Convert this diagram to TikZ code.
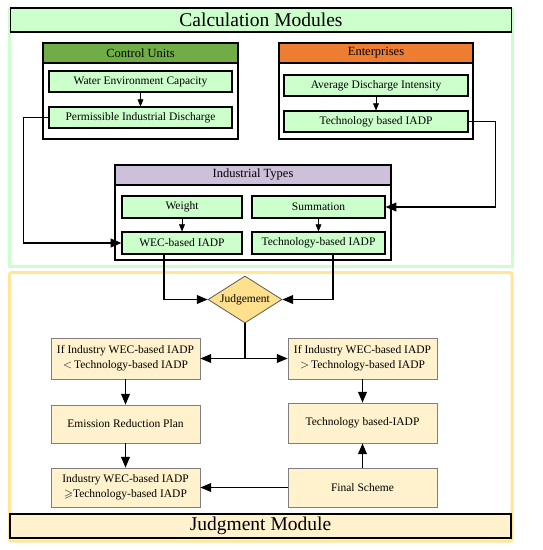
\documentclass[tikz,border=0pt]{standalone}
\usepackage{amssymb,amsmath}
\usepackage{fontspec}
\setmainfont{Liberation Serif}
\usetikzlibrary{arrows}
\usetikzlibrary{shapes.geometric}
\definecolor{calcgreen}{HTML}{CCFFCC}
\definecolor{unitgreen}{HTML}{70AD47}
\definecolor{entorange}{HTML}{ED7D31}
\definecolor{typepurple}{HTML}{CCC0DA}
\definecolor{judgeyellow}{HTML}{FFF2CC}
\definecolor{judgeframe}{HTML}{FFE699}
\definecolor{diamondgold}{HTML}{FFE08C}
\definecolor{boxgray}{HTML}{7F7F7F}

\begin{document}
\begin{tikzpicture}[line join=miter,>=triangle 45,x=1pt,y=-1pt,
    font=\fontsize{11.5}{15}\selectfont,
    titlebar/.style={draw=black,line width=1.6pt,minimum width=501pt,minimum height=24pt,inner sep=0pt,font=\fontsize{19.5}{22}\selectfont},
    groupbox/.style={draw=black,line width=1.6pt,inner sep=0pt},
    headbar/.style={draw=black,line width=1.6pt,minimum height=20pt,inner sep=0pt,font=\fontsize{12.5}{14}\selectfont},
    calcbox/.style={draw=black,fill=calcgreen,line width=1.2pt,inner sep=0pt},
    judgebox/.style={draw=boxgray,fill=judgeyellow,line width=0.8pt,minimum width=149pt,inner sep=0pt,align=center},
    flow/.style={->,line width=1.5pt},
    innerflow/.style={->,line width=0.6pt}]
        \useasboundingbox (0,0) rectangle (542,550);
        \draw[color=calcgreen,line width=3pt] (9.5,9.5) rectangle (512,266.5);
        \draw[color=judgeframe,line width=3pt,rounded corners=2pt] (9.5,272.5) rectangle (512,541);
        \node[titlebar,fill=calcgreen] (calctitle) at (261,20) {Calculation Modules};
        \node[titlebar,fill=judgeyellow] (judgetitle) at (260.5,526) {Judgment Module};
        % control units
        \node[groupbox,minimum width=195pt,minimum height=96pt] (units) at (140.5,91) {};
        \node[headbar,fill=unitgreen,minimum width=195pt] (unitshead) at (140.5,53) {Control Units};
        \node[calcbox,minimum width=183pt,minimum height=21pt] (wac) at (140.5,81.5) {Water Environment Capacity};
        \node[calcbox,minimum width=183pt,minimum height=21pt] (pid) at (140.5,117.5) {Permissible Industrial Discharge};
        % enterprises
        \node[groupbox,minimum width=194pt,minimum height=96pt] (ent) at (376,91) {};
        \node[headbar,fill=entorange,minimum width=194pt] (enthead) at (376,53) {Enterprises};
        \node[calcbox,minimum width=184pt,minimum height=21pt] (adi) at (376,85.5) {Average Discharge Intensity};
        \node[calcbox,minimum width=184pt,minimum height=21pt] (tbi) at (376,121.5) {Technology based IADP};
        % industrial types
        \node[groupbox,minimum width=276pt,minimum height=95pt] (types) at (253,212.5) {};
        \node[headbar,fill=typepurple,minimum width=276pt] (typeshead) at (253,175) {Industrial Types};
        \node[calcbox,minimum width=120pt,minimum height=22pt] (wgt) at (182,207) {Weight};
        \node[calcbox,minimum width=133pt,minimum height=22pt] (sum) at (318.5,207) {Summation};
        \node[calcbox,minimum width=120pt,minimum height=22pt] (wec) at (182,243) {WEC-based IADP};
        \node[calcbox,minimum width=133pt,minimum height=22pt] (tec) at (318.5,243) {Technology-based IADP};
        \draw[innerflow] (wac) -- (pid);
        \draw[innerflow] (adi) -- (tbi);
        \draw[innerflow] (wgt) -- (wec);
        \draw[innerflow] (sum) -- (tec);
        \draw[flow] (pid.west) -- ++(-25,0) |- (wec.west);
        \draw[flow] (tbi.east) -- ++(27,0) |- (sum.east);
        % judgment
        \node[diamond,aspect=1.6,draw=boxgray!70!black,fill=diamondgold,line width=0.8pt,minimum width=74pt,minimum height=47pt,inner sep=0pt] (judge) at (245,299.5) {Judgement};
        \node[judgebox,minimum height=41pt] (ifl) at (125.5,358.5) {If Industry WEC-based IADP\\$<$\,Technology-based IADP};
        \node[judgebox,minimum height=41pt] (ifr) at (362.5,358.5) {If Industry WEC-based IADP\\$>$\,Technology-based IADP};
        \node[judgebox,minimum height=38pt] (erp) at (125.5,424) {Emission Reduction Plan};
        \node[judgebox,minimum height=40pt] (tbd) at (362.5,423) {Technology based-IADP};
        \node[judgebox,minimum height=39pt] (ind) at (125.5,487.5) {Industry WEC-based IADP\\$\geqslant$Technology-based IADP};
        \node[judgebox,minimum height=39pt] (fin) at (362.5,487.5) {Final Scheme};
        \draw[flow] ([xshift=-18pt]wec.south) |- (judge.west);
        \draw[flow] ([xshift=14.5pt]tec.south) |- (judge.east);
        \coordinate (split) at (judge.south |- ifl.east);
        \draw[line width=1.5pt] (judge.south) -- (split);
        \draw[flow] (split) -- (ifl.east);
        \draw[flow] (split) -- (ifr.west);
        \draw[flow] (ifl) -- (erp);
        \draw[flow] (ifr) -- (tbd);
        \draw[flow] (erp) -- (ind);
        \draw[flow] (fin) -- (tbd);
        \draw[flow] (fin) -- (ind);
\end{tikzpicture}
\end{document}
